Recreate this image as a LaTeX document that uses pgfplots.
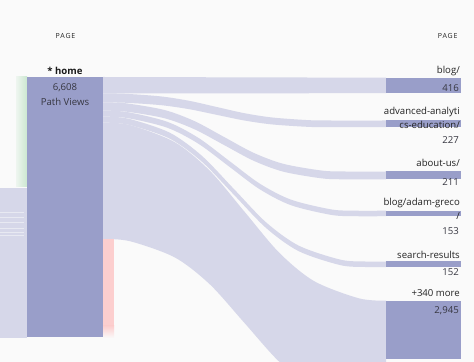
\documentclass[border=0pt]{standalone}
\usepackage{fontspec}
\setmainfont{Open Sans}
\usepackage{pgfplots}
\pgfplotsset{compat=1.18}
\usepgfplotslibrary{fillbetween}
\definecolor{bg}{RGB}{250,250,250}
\definecolor{barc}{RGB}{153,158,201}
\definecolor{flowc}{RGB}{214,215,233}
\definecolor{greenc}{RGB}{203,231,208}
\definecolor{pinkc}{RGB}{252,206,206}
\definecolor{txt}{RGB}{35,35,35}
\definecolor{numc}{RGB}{55,55,65}
\newcommand{\lbl}{\fontsize{9.6bp}{11bp}\selectfont}
\newcommand{\hdr}{\fontsize{7bp}{8bp}\selectfont\addfontfeatures{LetterSpace=12}}
\begin{document}
\begin{tikzpicture}
\begin{axis}[width=474bp,height=362bp,scale only axis,
  xmin=0,xmax=474,ymin=0,ymax=362,y dir=reverse,
  axis lines=none,ticks=none,clip=true,
  axis background/.style={fill=bg}]
% incoming band at left
\addplot[fill=flowc,draw=none,forget plot] coordinates {(0,188) (27,188) (27,338) (0,338)} -- cycle;
\addplot[draw=white,line width=0.5bp,opacity=0.45,forget plot] coordinates {(0,212) (24,212)};
\addplot[draw=white,line width=0.5bp,opacity=0.45,forget plot] coordinates {(0,217) (24,217)};
\addplot[draw=white,line width=0.5bp,opacity=0.45,forget plot] coordinates {(0,222) (24,222)};
\addplot[draw=white,line width=0.5bp,opacity=0.45,forget plot] coordinates {(0,228) (24,228)};
\addplot[draw=white,line width=0.5bp,opacity=0.45,forget plot] coordinates {(0,232) (24,232)};
\addplot[draw=white,line width=0.5bp,opacity=0.45,forget plot] coordinates {(0,235) (24,235)};
% green entry strip
\addplot[draw=none,left color=greenc!25!bg,right color=greenc,forget plot] coordinates {(16,77) (27,77) (27,187) (16,187)} -- cycle;
% flows: blog (straight)
\addplot[fill=flowc,draw=none,forget plot] coordinates {(103,77) (386,77.7) (386,93.2) (103,93.4)} -- cycle;
% advanced-analytics-education
\addplot[draw=none,smooth,name path=at,forget plot] coordinates {(103,93.4) (124.7,93.76) (160.7,96.39) (188.8,100.74) (216.5,106.95) (244.2,113.16) (272.3,117.51) (308.4,120.14) (330,120.5) (386,120.5)};
\addplot[draw=none,smooth,name path=ab,forget plot] coordinates {(103,102.4) (124.7,102.73) (160.7,105.14) (188.8,109.12) (216.5,114.8) (244.2,120.48) (272.3,124.46) (308.4,126.87) (330,127.2) (386,127.2)};
\addplot[fill=flowc,on layer=main,forget plot] fill between[of=at and ab];
% about-us
\addplot[draw=none,smooth,name path=bt,forget plot] coordinates {(103,102.4) (126.1,103.31) (164.6,110.02) (194.5,121.12) (224,136.95) (253.5,152.78) (283.5,163.88) (322,170.59) (345,171.5) (386,171.5)};
\addplot[draw=none,smooth,name path=bb,forget plot] coordinates {(103,110.7) (126.1,111.61) (164.6,118.27) (194.5,129.28) (224,145.0) (253.5,160.72) (283.5,171.73) (322,178.39) (345,179.3) (386,179.3)};
\addplot[fill=flowc,on layer=main,forget plot] fill between[of=bt and bb];
% blog/adam-greco
\addplot[draw=none,smooth,name path=ct,forget plot] coordinates {(103,110.7) (127,112.02) (167.1,121.73) (198.3,137.79) (229,160.7) (259.7,183.61) (291,199.67) (331.1,209.38) (355,210.7) (386,210.7)};
\addplot[draw=none,smooth,name path=cb,forget plot] coordinates {(103,116.7) (127,118.01) (167.1,127.67) (198.3,143.65) (229,166.45) (259.7,189.25) (291,205.23) (331.1,214.89) (355,216.2) (386,216.2)};
\addplot[fill=flowc,on layer=main,forget plot] fill between[of=ct and cb];
% search-results
\addplot[draw=none,smooth,name path=dt,forget plot] coordinates {(103,116.7) (128,118.61) (169.7,132.67) (202,155.93) (234,189.1) (266,222.27) (298.5,245.53) (340.1,259.59) (365,261.5) (386,261.5)};
\addplot[draw=none,smooth,name path=db,forget plot] coordinates {(103,122.7) (128,124.6) (169.7,138.62) (202,161.79) (234,194.85) (266,227.91) (298.5,251.08) (340.1,265.09) (365,267) (386,267)};
\addplot[fill=flowc,on layer=main,forget plot] fill between[of=dt and db];
% +340 more
\addplot[draw=none,smooth,name path=et,forget plot] coordinates {(103,122.7) (130,125.05) (175,142.33) (210,170.92) (244.5,211.7) (279,252.48) (314,281.07) (359,298.35) (386,300.7)};
\addplot[draw=none,smooth,name path=eb,forget plot] coordinates {(103,239) (130,241.22) (175,257.53) (210,284.51) (244.5,323) (279,361.49) (314,388.47) (359,404.78) (386,407)};
\addplot[fill=flowc,on layer=main,forget plot] fill between[of=et and eb];
% exit strip (pink)
\addplot[fill=pinkc,draw=none,forget plot] coordinates {(103,239) (114,239) (114,326) (103,326)} -- cycle;
\addplot[draw=none,top color=pinkc,bottom color=bg,forget plot] coordinates {(103,326) (114,326) (114,338) (103,338)} -- cycle;
% home bar
\addplot[fill=barc,draw=none,forget plot] coordinates {(27,77) (103,77) (103,337) (27,337)} -- cycle;
% right bars
\addplot[fill=barc,draw=none,forget plot] coordinates {(386,77.7) (461,77.7) (461,93) (386,93)} -- cycle;
\addplot[fill=barc,draw=none,forget plot] coordinates {(386,120.3) (461,120.3) (461,127) (386,127)} -- cycle;
\addplot[fill=barc,draw=none,forget plot] coordinates {(386,171.5) (461,171.5) (461,179.3) (386,179.3)} -- cycle;
\addplot[fill=barc,draw=none,forget plot] coordinates {(386,210.7) (461,210.7) (461,216.2) (386,216.2)} -- cycle;
\addplot[fill=barc,draw=none,forget plot] coordinates {(386,261.5) (461,261.5) (461,267) (386,267)} -- cycle;
\addplot[fill=barc,draw=none,forget plot] coordinates {(386,300.7) (461,300.7) (461,359) (386,359)} -- cycle;
% headers
\node[text=txt,font=\hdr] at (axis cs:65.5,36) {PAGE};
\node[text=txt,font=\hdr,anchor=east] at (axis cs:461,36) {PAGE};
% left node labels
\node[text=black!90,font=\lbl\bfseries] at (axis cs:65,70.5) {* home};
\node[text=numc,font=\lbl] at (axis cs:65,88) {6,608};
\node[text=numc,font=\lbl] at (axis cs:65,101.5) {Path Views};
% right labels
\node[text=txt,font=\lbl,anchor=east,inner xsep=0pt] at (axis cs:460,71) {blog/};
\node[text=numc,font=\lbl,anchor=east,inner xsep=0pt] at (axis cs:459,88) {416};
\node[text=txt,font=\lbl,anchor=east,inner xsep=0pt] at (axis cs:460,112.5) {advanced-analyti};
\node[text=txt,font=\lbl,anchor=east,inner xsep=0pt] at (axis cs:460,125) {cs-education/};
\node[text=numc,font=\lbl,anchor=east,inner xsep=0pt] at (axis cs:459,140) {227};
\node[text=txt,font=\lbl,anchor=east,inner xsep=0pt] at (axis cs:460,163) {about-us/};
\node[text=numc,font=\lbl,anchor=east,inner xsep=0pt] at (axis cs:459,182) {211};
\node[text=txt,font=\lbl,anchor=east,inner xsep=0pt] at (axis cs:460,203.5) {blog/adam-greco};
\node[text=txt,font=\lbl,anchor=east,inner xsep=0pt] at (axis cs:460,216.5) {/};
\node[text=numc,font=\lbl,anchor=east,inner xsep=0pt] at (axis cs:459,231) {153};
\node[text=txt,font=\lbl,anchor=east,inner xsep=0pt] at (axis cs:460,255) {search-results};
\node[text=numc,font=\lbl,anchor=east,inner xsep=0pt] at (axis cs:459,272) {152};
\node[text=txt,font=\lbl,anchor=east,inner xsep=0pt] at (axis cs:460,293) {+340 more};
\node[text=numc,font=\lbl,anchor=east,inner xsep=0pt] at (axis cs:459,310.5) {2,945};
\end{axis}
\end{tikzpicture}
\end{document}
